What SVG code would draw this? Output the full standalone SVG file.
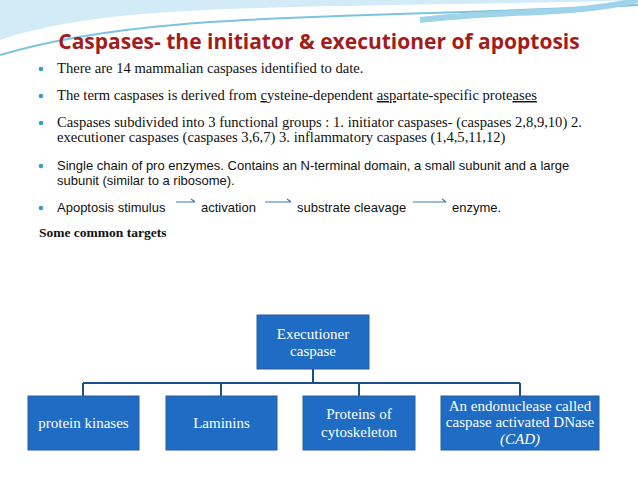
<svg xmlns="http://www.w3.org/2000/svg" width="638" height="478" viewBox="0 0 638 478">
<style>
.s{font-family:"Liberation Serif",serif;font-size:14.6px;fill:#111}
.a{font-family:"Liberation Sans",sans-serif;font-size:13px;fill:#111}
.b{fill:#3a9dc4}
.box{fill:#1e6cc4;stroke:#2a5c9a;stroke-width:1}
.t{font-family:"Liberation Serif",serif;font-size:15px;fill:#fff;text-anchor:middle}
.c{stroke:#1d4f8c;stroke-width:2;fill:none}
.ar{stroke:#3d78b8;stroke-width:1.2;fill:none}
</style>
<rect width="638" height="478" fill="#ffffff"/>
<path d="M0 40 C120 0 300 10 638 0 L0 0Z" fill="#bfe3f2" opacity="0.7"/>
<path d="M0 55 C150 10 350 20 638 5" stroke="#7cc3e0" stroke-width="2" fill="none"/>
<path d="M420 20 C500 10 580 15 638 0" stroke="#9fd3ea" stroke-width="6" fill="none"/>
<text x="319" y="49" text-anchor="middle" font-family="Open Sans,'Liberation Sans',sans-serif" font-weight="bold" font-size="21" fill="#a31c1c">Caspases- the initiator &amp; executioner of apoptosis</text>
<g class="b"><circle cx="41" cy="69" r="2.3"/><circle cx="41" cy="96" r="2.3"/><circle cx="41" cy="123" r="2.3"/><circle cx="41" cy="166" r="2.3"/><circle cx="41" cy="208" r="2.3"/></g>
<text class="s" x="57" y="73">There are 14 mammalian caspases identified to date.</text>
<text class="s" x="57" y="100">The term caspases is derived from <tspan text-decoration="underline">c</tspan>ysteine-dependent <tspan text-decoration="underline">asp</tspan>artate-specific prote<tspan text-decoration="underline">ases</tspan></text>
<text class="s" x="57" y="127">Caspases  subdivided into 3 functional groups : 1. initiator caspases- (caspases 2,8,9,10) 2.</text>
<text class="s" x="57" y="142">executioner caspases (caspases 3,6,7) 3. inflammatory caspases (1,4,5,11,12)</text>
<text class="a" x="57" y="170">Single chain of pro enzymes. Contains an N-terminal domain, a small subunit and a large</text>
<text class="a" x="57" y="185">subunit (similar to a ribosome).</text>
<text class="a" x="57" y="212">Apoptosis stimulus</text>
<text class="a" x="201" y="212">activation</text>
<text class="a" x="297" y="212">substrate cleavage</text>
<text class="a" x="452" y="212">enzyme.</text>
<g class="ar"><path d="M176 202H195M191 199L195 202"/><path d="M265 202H291M287 199L291 202"/><path d="M413 202H446M442 199L446 202"/></g>
<text x="39" y="237" font-family="Liberation Serif,serif" font-weight="bold" font-size="13.5" fill="#111">Some common targets</text>
<g id="connectors" class="c"><path d="M313 369V383M83 383H520M83 383V396M221 383V396M359 383V396M520 383V396"/></g>
<g id="n0"><rect class="box" x="257" y="315" width="112" height="54"/><text class="t" x="313" y="339">Executioner</text><text class="t" x="313" y="356">caspase</text></g>
<g id="n1"><rect class="box" x="28" y="396" width="111" height="54"/><text class="t" x="83.5" y="428">protein kinases</text></g>
<g id="n2"><rect class="box" x="166" y="396" width="111" height="54"/><text class="t" x="221.5" y="428">Laminins</text></g>
<g id="n3"><rect class="box" x="303" y="396" width="112" height="54"/><text class="t" x="359" y="419">Proteins of</text><text class="t" x="359" y="437">cytoskeleton</text></g>
<g id="n4"><rect class="box" x="441" y="396" width="158" height="54"/><text class="t" x="520" y="411">An endonuclease called</text><text class="t" x="520" y="427">caspase activated DNase</text><text class="t" x="520" y="444" font-style="italic">(CAD)</text></g>
</svg>
